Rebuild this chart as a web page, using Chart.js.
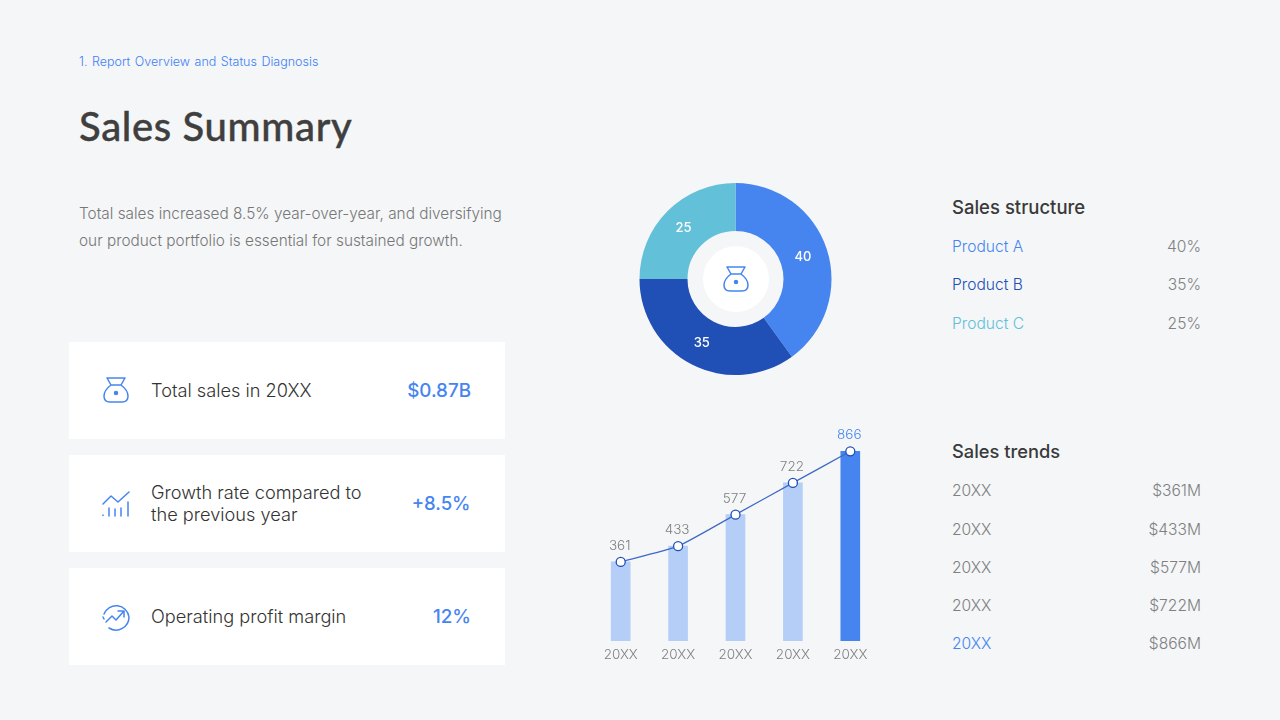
<!DOCTYPE html>
<html>
<head>
<meta charset="utf-8">
<script src="https://cdn.jsdelivr.net/npm/chart.js@4"></script>
<style>
html,body{margin:0;padding:0;}
body{width:1280px;height:720px;background:#f4f6f8;position:relative;overflow:hidden;font-family:Inter,sans-serif;}
.t{position:absolute;white-space:nowrap;}
.card{position:absolute;left:69px;width:436px;height:97px;background:#fff;}
canvas{position:absolute;}
.blue{color:#4685f0;}
.row{position:absolute;left:952px;width:249px;font-size:15.6px;font-weight:300;color:#808080;line-height:20px;}
.row span:last-child{position:absolute;right:0;top:0;}
svg{position:absolute;fill:none;stroke:#4685f0;stroke-width:1.5;stroke-linecap:round;stroke-linejoin:round;}
</style>
</head>
<body>
<div class="t" style="left:79px;top:53px;font-size:12.5px;font-weight:300;line-height:17px;word-spacing:1px;color:#3f80f5">1. Report Overview and Status Diagnosis</div>
<div class="t" style="left:79px;top:102px;font-family:Lato;font-size:40px;font-weight:500;line-height:48px;letter-spacing:.65px;-webkit-text-stroke:.4px #3f3f3f;color:#3f3f3f" id="title">Sales Summary</div>
<div class="t" style="left:79px;top:199.5px;font-size:15.35px;font-weight:300;line-height:27.5px;color:#777">Total sales increased 8.5% year-over-year, and diversifying<br>our product portfolio is essential for sustained growth.</div>

<div class="card" style="top:342px"></div>
<div class="card" style="top:455px"></div>
<div class="card" style="top:568px"></div>

<svg style="left:102px;top:376px" width="28" height="28" viewBox="0 0 28 28"><path d="M5 2H23L19 9C23 12 26 16 26 20C26 24 24 26 20 26H8C4 26 2 24 2 20C2 16 5 12 9 9ZM9 9H19"/><circle cx="14" cy="17" r="1.5" fill="#4685f0"/></svg>
<svg style="left:102px;top:490px" width="28" height="28" viewBox="0 0 28 28"><path d="M1 14L9 6L16 12L27 2M1 25V25.5M7 18V26M13 19V26M19 18V26M26 12V26"/></svg>
<svg style="left:102px;top:603px" width="28" height="28" viewBox="0 0 28 28"><path d="M2 11A13 13 0 0 1 27 14A13 13 0 0 1 7 25M2 16L1 14M4 19L10 13L14 17L22 8M16 8H22V14"/></svg>

<div class="t" style="left:151px;top:379px;font-size:18.2px;font-weight:300;line-height:23px;color:#333">Total sales in 20XX</div>
<div class="t" style="left:151px;top:481px;font-size:18.2px;font-weight:300;line-height:22px;color:#333">Growth rate compared to<br>the previous year</div>
<div class="t" style="left:151px;top:605px;font-size:18.2px;font-weight:300;line-height:23px;color:#333">Operating profit margin</div>
<div class="t blue" style="right:809px;top:379px;font-size:18.8px;font-weight:500;line-height:23px">$0.87B</div>
<div class="t blue" style="right:809.5px;top:492px;font-size:18.5px;font-weight:500;line-height:23px">+8.5%</div>
<div class="t blue" style="right:809px;top:605px;font-size:18.8px;font-weight:500;line-height:23px">12%</div>

<canvas id="pie" width="201" height="200" style="left:635px;top:179px;width:201px;height:200px"></canvas>
<div style="position:absolute;left:702.5px;top:246px;width:66px;height:66px;border-radius:50%;background:#fff"></div>
<svg style="left:722px;top:265px" width="28" height="28" viewBox="0 0 28 28"><path d="M5 2H23L19 9C23 12 26 16 26 20C26 24 24 26 20 26H8C4 26 2 24 2 20C2 16 5 12 9 9ZM9 9H19"/><circle cx="14" cy="17" r="1.5" fill="#4685f0"/></svg>

<canvas id="bars" width="287" height="250" style="left:592px;top:420px;width:287px;height:250px"></canvas>

<div class="t" style="left:952px;top:196px;font-size:18.5px;font-weight:500;line-height:23px;color:#3a3a3a">Sales structure</div>
<div id="structure"></div>
<div class="t" style="left:952px;top:440px;font-size:18.3px;font-weight:500;line-height:23px;color:#3a3a3a">Sales trends</div>
<div id="trends"></div>

<script>
var products = ['Product A', 'Product B', 'Product C'];
var shares = [40, 35, 25];
var years = ['20XX', '20XX', '20XX', '20XX', '20XX'];
var sales = [361, 433, 577, 722, 866];
var salesText = ['$361M', '$433M', '$577M', '$722M', '$866M'];

var BLUE = '#4685f0', NAVY = '#204fb5', TEAL = '#62c0d8', PALE = '#b5cef8';
var pieColors = [BLUE, NAVY, TEAL];

function addRow(box, top, name, val, nameColor) {
	var row = document.createElement('div');
	row.className = 'row';
	row.style.top = top + 'px';
	row.innerHTML = '<span style="color:' + nameColor + '">' + name + '</span><span>' + val + '</span>';
	box.appendChild(row);
}
var sBox = document.getElementById('structure');
var sTops = [237, 275, 314];
products.forEach(function(p, i) { addRow(sBox, sTops[i], p, shares[i] + '%', pieColors[i]); });
var tBox = document.getElementById('trends');
var tTops = [481, 520, 558, 596, 634];
years.forEach(function(y, i) { addRow(tBox, tTops[i], y, salesText[i], i == 4 ? BLUE : '#808080'); });

// numbers on the doughnut slices
var sliceLabels = {
	id: 'sliceLabels',
	afterDatasetsDraw: function(chart) {
		var c = chart.ctx;
		c.save();
		c.font = '500 13px Inter';
		c.fillStyle = '#fff';
		c.textAlign = 'center';
		c.textBaseline = 'middle';
		chart.getDatasetMeta(0).data.forEach(function(arc, i) {
			var p = arc.getCenterPoint();
			c.fillText(shares[i], p.x - 1, p.y);
		});
		c.restore();
	}
};

new Chart(document.getElementById('pie'), {
	type: 'doughnut',
	data: { labels: products, datasets: [{ data: shares, backgroundColor: pieColors, borderWidth: 0 }] },
	options: {
		responsive: false,
		animation: false,
		cutout: '50%',
		layout: { padding: 4 },
		plugins: { legend: { display: false }, tooltip: { enabled: false } }
	},
	plugins: [sliceLabels]
});

// numbers above the line points
var pointLabels = {
	id: 'pointLabels',
	afterDatasetsDraw: function(chart) {
		var c = chart.ctx;
		c.save();
		c.font = '300 13.5px Inter';
		c.textAlign = 'center';
		c.textBaseline = 'middle';
		chart.getDatasetMeta(0).data.forEach(function(pt, i) {
			c.fillStyle = i == 4 ? BLUE : '#808080';
			c.fillText(sales[i], pt.x - 1, pt.y - 16);
		});
		c.restore();
	}
};

new Chart(document.getElementById('bars'), {
	type: 'bar',
	data: {
		labels: years,
		datasets: [
			{
				type: 'line',
				data: sales,
				borderColor: '#3f69c6',
				borderWidth: 1.2,
				tension: 0.15,
				pointRadius: 4.5,
				pointBackgroundColor: '#fff',
				pointBorderColor: NAVY,
				pointBorderWidth: 1.3,
				order: 0
			},
			{
				data: sales,
				backgroundColor: sales.map(function(v, i) { return i == 4 ? BLUE : PALE; }),
				barThickness: 19,
				order: 1
			}
		]
	},
	options: {
		responsive: false,
		animation: false,
		layout: { autoPadding: false, padding: { top: 2 } },
		scales: {
			x: {
				grid: { display: false, drawTicks: false },
				border: { display: false },
				afterFit: function(a) { a.height = 29; },
				ticks: { color: '#808080', font: { family: 'Inter', size: 13.5, weight: 300 }, padding: 6, maxRotation: 0 }
			},
			y: { display: false, min: 0, max: 1000 }
		},
		plugins: { legend: { display: false }, tooltip: { enabled: false } }
	},
	plugins: [pointLabels]
});
</script>
</body>
</html>
